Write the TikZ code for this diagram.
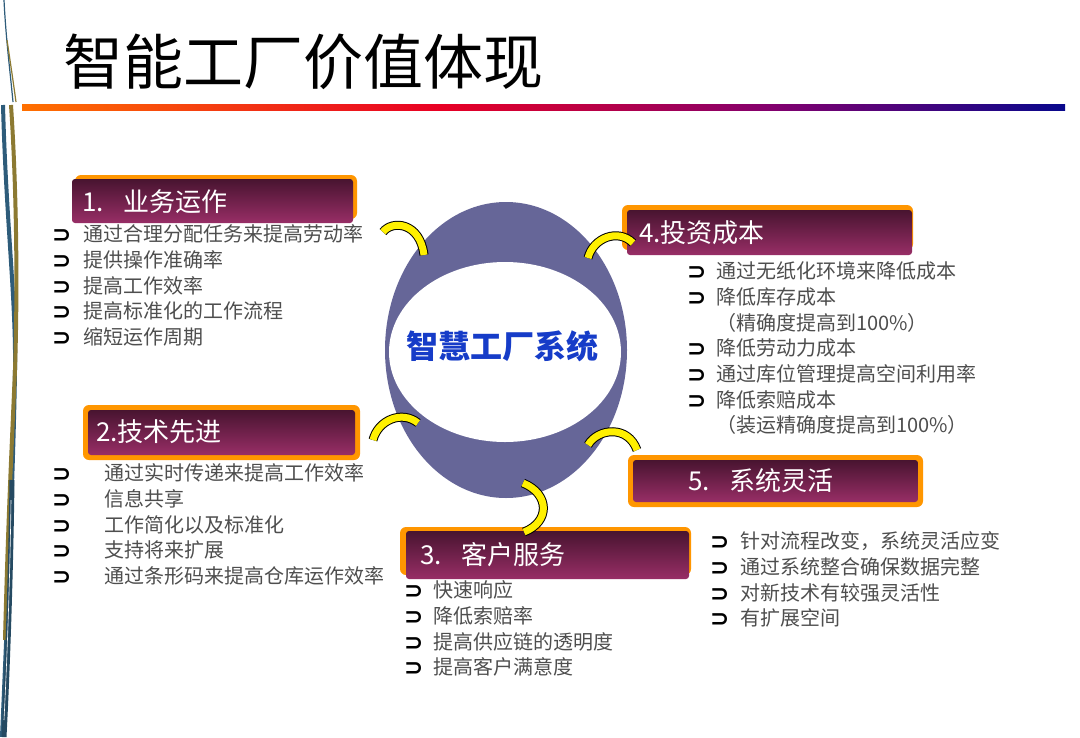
\documentclass[tikz,border=0pt]{standalone}
\usepackage{fontspec}
\usepackage{xcolor}
\usepackage{tikz}
\setmainfont{Noto Sans CJK SC}
\newfontfamily\symfont{DejaVu Sans}

\definecolor{barorange}{RGB}{255,112,0}
\definecolor{barred}{RGB}{232,0,36}
\definecolor{barpurple}{RGB}{130,0,110}
\definecolor{barblue}{RGB}{8,8,140}
\definecolor{edgeorange}{RGB}{255,150,0}
\definecolor{boxtop}{RGB}{72,20,48}
\definecolor{boxbot}{RGB}{152,46,102}
\definecolor{ringfill}{RGB}{102,102,152}
\definecolor{coreblue}{RGB}{22,60,200}
\definecolor{bodygray}{RGB}{78,78,78}
\definecolor{tubeyellow}{RGB}{255,240,0}
\definecolor{stripeblue}{RGB}{46,92,122}
\definecolor{stripeolive}{RGB}{140,122,50}

\pgfdeclarehorizontalshading{barshade}{100bp}{color(0bp)=(barorange); color(25bp)=(barorange); color(45bp)=(barred); color(61bp)=(barpurple); color(75bp)=(barblue); color(100bp)=(barblue)}

\newlength\bulwd
\newcommand{\bul}{\raisebox{-1pt}{\symfont\bfseries\fontsize{23}{23}\selectfont\color{black}⊃}}
\newcommand{\bitem}[1]{\makebox[\bulwd][l]{\bul}#1}
\newcommand{\bgap}[1]{\hspace*{\bulwd}#1}

\begin{document}
\begin{tikzpicture}[x=1pt,y=-1pt,
	headtext/.style={anchor=west, inner sep=0, text=white, font=\fontsize{26}{30}\selectfont},
	bodytext/.style={anchor=north west, inner sep=0, text=bodygray, font=\fontsize{20}{25.7}\selectfont},
	orangebox/.style={fill=edgeorange, rounded corners=6},
	purplebox/.style={top color=boxtop, bottom color=boxbot, rounded corners=3},
	tube/.style={draw=black, line width=1, double=tubeyellow, double distance=7}]
	\useasboundingbox (0,0) rectangle (1080,737);
	\fill[white] (0,0) rectangle (1080,737);

	% side stripes
	\draw[stripeblue, line width=1.2] (4,0) .. controls (6,40) and (10,70) .. (13,102);
	\draw[stripeolive, line width=1.2] (7,40) .. controls (10,60) and (13,80) .. (16,102);
	\draw[stripeblue, line width=4] (3,105) .. controls (6,220) and (16,300) .. (15,370) .. controls (14,450) and (8,600) .. (2,737);
	\draw[stripeolive, line width=4] (11,105) .. controls (16,180) and (18,280) .. (15,370) .. controls (12,440) and (8,520) .. (5,640);
	\draw[stripeblue!80!black, line width=5] (12,480) .. controls (11,560) and (8,660) .. (4,737);
	\draw[white, line width=0.6] (11,500) .. controls (10,580) and (7,660) .. (4,720);

	% title
	\node[anchor=west, inner sep=0, font=\fontsize{60}{60}\selectfont] (title) at (63,62) {智能工厂价值体现};
	\shade[shading=barshade] (22,104) rectangle (1065,110);

	% ring
	\fill[ringfill] (506,350) ellipse [x radius=121, y radius=148];
	\fill[white] (505,352) ellipse [x radius=116, y radius=90];
	\node[font=\fontsize{32}{36}\selectfont\bfseries, text=coreblue] (core) at (502,346) {智慧工厂系统};

	% headers
	\fill[orangebox] (75,175) rectangle (357,219);
	\shade[purplebox] (72,179) rectangle (353,223);
	\node[headtext] (ops) at (82,202) {1.\hspace{20pt}业务运作};

	\fill[orangebox] (83,405) rectangle (360,460);
	\shade[purplebox] (88,410) rectangle (355,455);
	\node[headtext] (tech) at (96,432) {2.技术先进};

	\fill[orangebox] (622,205) rectangle (913,250);
	\shade[purplebox] (627,210) rectangle (912,255);
	\node[headtext] (cost) at (639,233) {4.投资成本};

	\fill[orangebox] (628,455) rectangle (923,507);
	\shade[purplebox] (633,460) rectangle (918,502);
	\node[headtext] (flex) at (688,481) {5.\hspace{20pt}系统灵活};

	\fill[orangebox] (400,527) rectangle (691,575);
	\shade[purplebox] (406,531) rectangle (689,579);
	\node[headtext] (cust) at (420,555) {3.\hspace{20pt}客户服务};

	% lists
	\node[bodytext] (opslist) at (52,223.6) {\setlength\bulwd{31pt}\begin{tabular}{@{}l@{}}
		\bitem{通过合理分配任务来提高劳动率}\\
		\bitem{提供操作准确率}\\
		\bitem{提高工作效率}\\
		\bitem{提高标准化的工作流程}\\
		\bitem{缩短运作周期}
	\end{tabular}};
	\node[bodytext] (techlist) at (52,462.6) {\setlength\bulwd{52pt}\begin{tabular}{@{}l@{}}
		\bitem{通过实时传递来提高工作效率}\\
		\bitem{信息共享}\\
		\bitem{工作简化以及标准化}\\
		\bitem{支持将来扩展}\\
		\bitem{通过条形码来提高仓库运作效率}
	\end{tabular}};
	\node[bodytext] (costlist) at (687,260.6) {\setlength\bulwd{29pt}\begin{tabular}{@{}l@{}}
		\bitem{通过无纸化环境来降低成本}\\
		\bitem{降低库存成本}\\
		\bgap{（精确度提高到100\%）}\\
		\bitem{降低劳动力成本}\\
		\bitem{通过库位管理提高空间利用率}\\
		\bitem{降低索赔成本}\\
		\bgap{（装运精确度提高到100\%）}
	\end{tabular}};
	\node[bodytext] (flexlist) at (710,530.6) {\setlength\bulwd{30pt}\begin{tabular}{@{}l@{}}
		\bitem{针对流程改变，系统灵活应变}\\
		\bitem{通过系统整合确保数据完整}\\
		\bitem{对新技术有较强灵活性}\\
		\bitem{有扩展空间}
	\end{tabular}};
	\node[bodytext] (custlist) at (404,579.6) {\setlength\bulwd{29pt}\begin{tabular}{@{}l@{}}
		\bitem{快速响应}\\
		\bitem{降低索赔率}\\
		\bitem{提高供应链的透明度}\\
		\bitem{提高客户满意度}
	\end{tabular}};

	% curved tubes
	\draw[tube] (383,232) .. controls (392,220) and (420,222) .. (424,255);
	\draw[tube] (588,258) .. controls (593,238) and (618,228) .. (633,243);
	\draw[tube] (373,440) .. controls (378,420) and (402,410) .. (418,423);
	\draw[tube] (588,445) .. controls (598,428) and (628,425) .. (637,450);
	\draw[tube] (523,483) .. controls (550,494) and (550,522) .. (524,532);
\end{tikzpicture}
\end{document}
